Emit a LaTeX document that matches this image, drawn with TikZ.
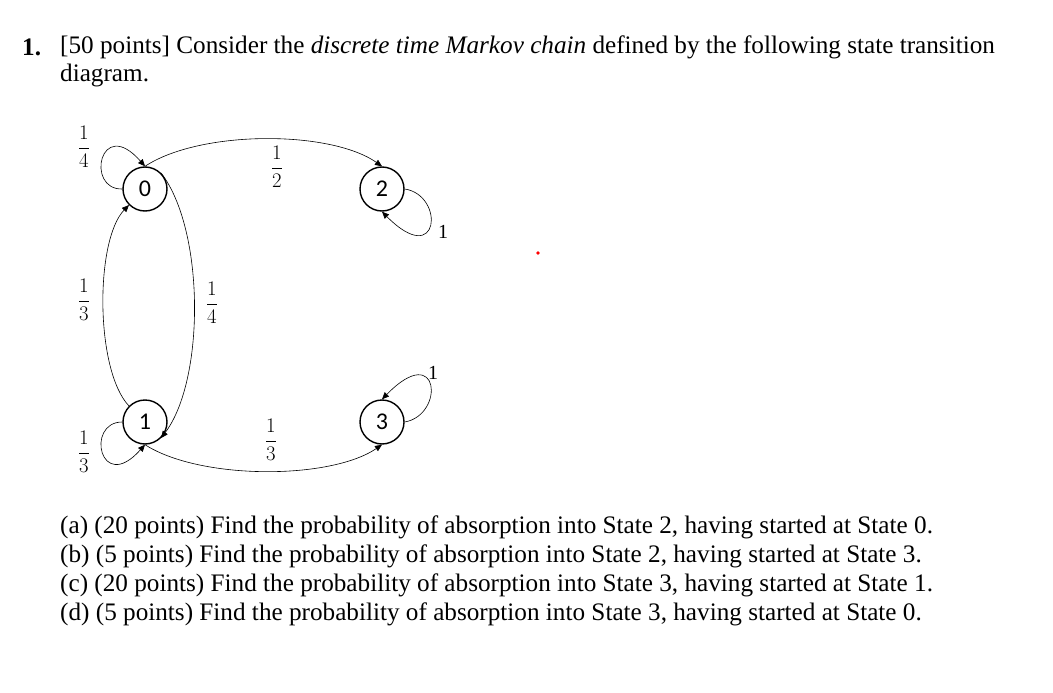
\documentclass[tikz,border=0pt]{standalone}
\usepackage{fontspec}
\setmainfont{Liberation Serif}
\newfontfamily\nodefont{Carlito}
\usetikzlibrary{arrows.meta}
\begin{document}
\begin{tikzpicture}[x=1pt,y=-1pt,
  st/.style={circle,draw,line width=1.4pt,minimum size=44pt,inner sep=0pt,font=\nodefont\fontsize{24}{24}\selectfont},
  ed/.style={draw,line width=0.6pt,-{Triangle[length=7pt,width=6pt]}},
  lb/.style={font=\fontsize{20}{20}\selectfont},
  txt/.style={anchor=west,inner sep=0pt,font=\fontsize{25.2}{25.2}\selectfont}]
\useasboundingbox (0,0) rectangle (1053,693);
\node[txt] (h1) at (22,47) {\textbf{1.}};
\node[txt] (h2) at (60,47) {[50 points] Consider the \textit{discrete time Markov chain} defined by the following state transition};
\node[txt] (h3) at (60,75) {diagram.};
\node (n0) [st] at (145,189) {0};
\node (n2) [st] at (382,189) {2};
\node (n1) [st] at (145,422) {1};
\node (n3) [st] at (382,422) {3};
\draw[ed] (n0.north) .. controls (200,130) and (330,130) .. (n2.north);
\draw[ed] (n1.south) .. controls (200,480) and (330,480) .. (n3.south);
\draw[ed] (n0.west) .. controls (85,190) and (100,115) .. (n0.north);
\draw[ed] (n1.west) .. controls (85,422) and (100,495) .. (n1.south);
\draw[ed] (n2.east) .. controls (445,195) and (440,270) .. (n2.south);
\draw[ed] (n3.east) .. controls (445,415) and (440,340) .. (n3.north);
\draw[ed] (n1.north west) .. controls (95,370) and (95,240) .. (n0.south west);
\draw[ed] (n0.north east) .. controls (205,230) and (205,380) .. (n1.south east);
\node[lb] (l1) at (84,147) {$\displaystyle\frac{1}{4}$};
\node[lb] (l2) at (277,167) {$\displaystyle\frac{1}{2}$};
\node[lb] (l3) at (443,232) {1};
\node[lb] (l4) at (84,300) {$\displaystyle\frac{1}{3}$};
\node[lb] (l5) at (212,303) {$\displaystyle\frac{1}{4}$};
\node[lb] (l6) at (433,373) {1};
\node[lb] (l7) at (84,452) {$\displaystyle\frac{1}{3}$};
\node[lb] (l8) at (271,440) {$\displaystyle\frac{1}{3}$};
\fill[red] (538,253) circle (1.8pt);
\node[txt] (q1) at (60,527) {(a) (20 points) Find the probability of absorption into State 2, having started at State 0.};
\node[txt] (q2) at (60,556) {(b) (5 points) Find the probability of absorption into State 2, having started at State 3.};
\node[txt] (q3) at (60,585) {(c) (20 points) Find the probability of absorption into State 3, having started at State 1.};
\node[txt] (q4) at (60,614) {(d) (5 points) Find the probability of absorption into State 3, having started at State 0.};
\end{tikzpicture}
\end{document}
